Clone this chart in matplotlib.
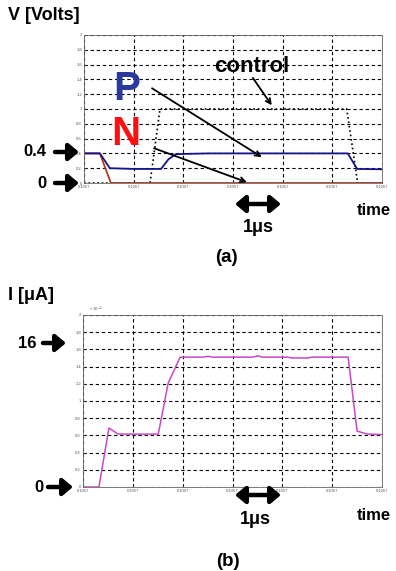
import matplotlib.pyplot as plt

plt.rcParams['font.family'] = ['Liberation Sans', 'DejaVu Sans']

# time axis in units of grid divisions (each division ~ 1 us)
tick_pos = [0, 1, 2, 3, 4, 5, 6]
tick_lbl = ['0.1057'] * 7
v_ticks = [0, 0.2, 0.4, 0.6, 0.8, 1, 1.2, 1.4, 1.6, 1.8, 2]
v_tick_lbl = ['0', '0.2', '0.4', '0.6', '0.8', '1', '1.2', '1.4', '1.6', '1.8', '2']

# (a) voltages
n_t = [0, 0.32, 0.54, 6]
n_v = [0.4, 0.4, 0.0, 0.0]
p_t = [0, 0.32, 0.52, 1.0, 1.55, 1.7, 1.85, 2.5, 3.5, 5.31, 5.5, 6]
p_v = [0.4, 0.4, 0.2, 0.19, 0.19, 0.32, 0.39, 0.4, 0.4, 0.4, 0.19, 0.185]
c_t = [0, 1.33, 1.53, 5.29, 5.51, 6]
c_v = [0.0, 0.0, 1.0, 1.0, 0.0, 0.0]

# (b) current, x 1e-5
i_t = [0, 0.32, 0.52, 0.70, 1.0, 1.51, 1.71, 1.95, 2.4, 2.51, 2.6, 3.4, 3.51, 3.6,
       4.1, 4.2, 4.5, 4.6, 5.32, 5.5, 5.7, 6]
i_v = [0, 0, 0.686, 0.616, 0.615, 0.615, 1.21, 1.51, 1.51, 1.52, 1.51, 1.51, 1.525, 1.51,
       1.51, 1.5, 1.5, 1.51, 1.51, 0.65, 0.615, 0.61]

W, H = 396, 571
fig = plt.figure(figsize=(W / 100, H / 100), dpi=100)


def box(l, t, r, b):
    return [l / W, 1 - b / H, (r - l) / W, (b - t) / H]


def style(ax):
    ax.set_xlim(0, 6)
    ax.set_ylim(0, 2)
    ax.set_xticks(tick_pos)
    ax.set_xticklabels(tick_lbl)
    ax.set_yticks(v_ticks)
    ax.set_yticklabels(v_tick_lbl)
    ax.tick_params(labelsize=3, length=1.5, width=0.4, direction='in', pad=1.5,
                   colors='#555555')
    ax.grid(True, color='black', linestyle=(0, (3, 2.5)), linewidth=0.8)
    for s in ax.spines.values():
        s.set_linewidth(0.6)
        s.set_color('#666666')


def ftext(x, y, s, **kw):
    fig.text(x / W, 1 - y / H, s, **kw)


def farrow(x0, x1, y, style='-|>'):
    fig.add_artist(plt.matplotlib.patches.FancyArrowPatch(
        (x0 / W, 1 - y / H), (x1 / W, 1 - y / H), transform=fig.transFigure,
        arrowstyle=style + ',head_width=0.5,head_length=0.6', mutation_scale=10,
        lw=3.2, color='black', shrinkA=0, shrinkB=0))


# ---- (a)
ax1 = fig.add_axes(box(84, 35, 382, 183))
style(ax1)
ax1.plot(c_t, c_v, color='black', linestyle=':', linewidth=1.2)
ax1.plot(n_t, n_v, color='#b23a1e', linewidth=1.3)
ax1.plot(p_t, p_v, color='#14148c', linewidth=1.3)

ax1.text(0.85, 1.27, 'P', color='#2a3a9c', fontsize=29, fontweight='bold', ha='center', va='center')
ax1.text(0.85, 0.66, 'N', color='#ff0f0f', fontsize=29, fontweight='bold', ha='center', va='center')
ax1.text(3.38, 1.57, 'control', color='black', fontsize=16, fontweight='bold', ha='center', va='center')
ap = dict(arrowstyle='->', lw=1.3, color='black', shrinkA=0, shrinkB=0, mutation_scale=9)
ax1.annotate('', xy=(3.58, 0.35), xytext=(1.37, 1.28), arrowprops=ap)
ax1.annotate('', xy=(3.28, 0.01), xytext=(1.41, 0.47), arrowprops=ap)
ax1.annotate('', xy=(3.78, 1.05), xytext=(3.40, 1.42), arrowprops=ap)

ftext(8, 16, 'V [Volts]', fontsize=13, fontweight='bold', va='center')
ftext(35, 152, '0.4', fontsize=12, fontweight='bold', ha='center', va='center')
farrow(55, 79, 152)
ftext(42, 183, '0', fontsize=12, fontweight='bold', ha='center', va='center')
farrow(55, 79, 183)
ftext(374, 211, 'time', fontsize=12, fontweight='bold', ha='center', va='center')
farrow(235, 281, 204, '<|-|>')
ftext(258, 227, '1\u03bcs', fontsize=13, fontweight='bold', ha='center', va='center')
ftext(226, 258, '(a)', fontsize=13.5, fontweight='bold', ha='center', va='center')

# ---- (b)
ax2 = fig.add_axes(box(83, 315, 382, 487))
style(ax2)
ax2.plot(i_t, i_v, color='#c848c8', linewidth=1.1)
ax2.text(0.02, 1.005, '\u00d7 10$^{-5}$', transform=ax2.transAxes, fontsize=3,
         color='#555555', va='bottom')

ftext(8, 296, 'I [\u03bcA]', fontsize=13, fontweight='bold', va='center')
ftext(27, 343, '16', fontsize=12, fontweight='bold', ha='center', va='center')
farrow(43, 66, 343)
ftext(39, 487, '0', fontsize=12, fontweight='bold', ha='center', va='center')
farrow(48, 73, 487)
ftext(374, 515, 'time', fontsize=12, fontweight='bold', ha='center', va='center')
farrow(235, 281, 495, '<|-|>')
ftext(255, 520, '1\u03bcs', fontsize=13, fontweight='bold', ha='center', va='center')
ftext(228, 561, '(b)', fontsize=13.5, fontweight='bold', ha='center', va='center')

fig.savefig('out.png', dpi=100)
